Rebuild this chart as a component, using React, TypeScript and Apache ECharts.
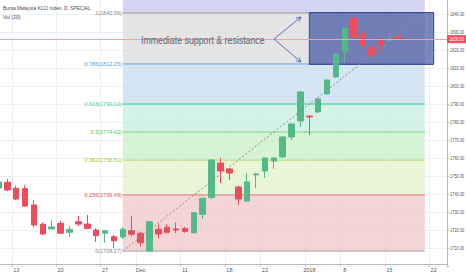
import React, { useEffect, useRef } from 'react';
import * as echarts from 'echarts';

const dates = [
  '2017-11-09', '2017-11-10', '2017-11-13', '2017-11-14', '2017-11-15', '2017-11-16', '2017-11-17',
  '2017-11-20', '2017-11-21', '2017-11-22', '2017-11-23', '2017-11-24',
  '2017-11-27', '2017-11-28', '2017-11-29', '2017-11-30',
  '2017-12-04', '2017-12-05', '2017-12-06', '2017-12-07', '2017-12-08',
  '2017-12-11', '2017-12-12', '2017-12-13', '2017-12-14', '2017-12-15',
  '2017-12-18', '2017-12-19', '2017-12-20', '2017-12-21', '2017-12-22',
  '2017-12-26', '2017-12-27', '2017-12-28', '2017-12-29',
  '2018-01-02', '2018-01-03', '2018-01-04', '2018-01-05',
  '2018-01-08', '2018-01-09', '2018-01-10', '2018-01-11', '2018-01-12',
  '2018-01-15', '2018-01-16', '2018-01-17', '2018-01-18', '2018-01-19',
  '2018-01-22', '2018-01-23',
];

// [open, close, low, high]
const ohlc = [
  [1743.3, 1746.7, 1742.8, 1747.5],
  [1746.5, 1742.2, 1741.5, 1748.3],
  [1743.2, 1737.2, 1736.5, 1744.7],
  [1743.0, 1733.3, 1732.8, 1744.7],
  [1733.9, 1722.8, 1721.5, 1736.5],
  [1723.2, 1717.8, 1717.2, 1724.2],
  [1720.6, 1721.7, 1720.4, 1725.6],
  [1723.7, 1718.2, 1717.8, 1725.0],
  [1718.7, 1720.4, 1716.3, 1722.2],
  [1724.6, 1723.3, 1722.2, 1727.8],
  [1723.3, 1720.9, 1720.6, 1728.3],
  [1720.0, 1716.8, 1713.3, 1721.0],
  [1718.2, 1719.6, 1712.9, 1720.0],
  [1716.3, 1714.0, 1709.9, 1717.2],
  [1716.1, 1720.4, 1715.0, 1721.5],
  [1719.6, 1717.6, 1716.5, 1727.8],
  [1718.2, 1712.9, 1710.6, 1719.1],
  [1708.3, 1724.6, 1708.27, 1725.0],
  [1720.4, 1717.8, 1715.4, 1723.1],
  [1721.5, 1718.7, 1718.0, 1723.1],
  [1720.6, 1720.0, 1718.3, 1724.1],
  [1720.9, 1719.1, 1718.5, 1721.8],
  [1718.5, 1729.6, 1718.0, 1730.0],
  [1728.7, 1737.6, 1726.1, 1738.0],
  [1738.0, 1758.9, 1737.2, 1759.4],
  [1757.2, 1752.8, 1746.1, 1760.0],
  [1753.9, 1751.7, 1747.8, 1754.5],
  [1743.9, 1737.2, 1733.9, 1744.5],
  [1736.1, 1746.7, 1735.5, 1751.7],
  [1750.6, 1751.1, 1743.3, 1751.7],
  [1752.8, 1760.0, 1748.9, 1760.3],
  [1758.3, 1760.0, 1753.9, 1760.3],
  [1760.6, 1771.7, 1760.0, 1772.0],
  [1771.7, 1778.9, 1770.0, 1779.2],
  [1780.6, 1796.7, 1777.2, 1797.0],
  [1783.3, 1782.8, 1772.8, 1783.6],
  [1785.6, 1792.8, 1785.0, 1793.0],
  [1795.6, 1803.3, 1795.0, 1803.6],
  [1805.0, 1817.8, 1804.5, 1818.0],
  [1819.4, 1832.2, 1813.3, 1832.5],
  [1837.8, 1827.2, 1823.9, 1840.56],
  [1828.9, 1822.8, 1821.7, 1830.6],
  [1821.7, 1816.7, 1812.8, 1823.9],
  [1825.0, 1822.8, 1818.9, 1827.2],
  [1825.4, 1825.8, 1824.4, 1827.8],
  [1827.8, 1826.03, 1818.9, 1828.0],
];

const tickDates = ['2017-11-13', '2017-11-20', '2017-11-27', '2017-12-04', '2017-12-11', '2017-12-18', '2017-12-22', '2018-01-02', '2018-01-08', '2018-01-15', '2018-01-22'];
const tickTexts = ['13', '20', '27', 'Dec', '11', '18', '22', '2018', '8', '15', '22'];

const yTickValues = [1710, 1720, 1730, 1740, 1750, 1760, 1770, 1780, 1790, 1800, 1810, 1820, 1830, 1840];

const fibLevels = ['0', '0.236', '0.382', '0.5', '0.618', '0.786', '1'];
const fibPrices = [1708.27, 1739.49, 1758.81, 1774.42, 1790.02, 1812.25, 1840.56];
const fibTopPrice = 1876.55; // 1.272 level (off-chart)
const fibStartDate = '2017-11-29';
const fibEndDate = '2018-01-19';

const boxStartDate = '2018-01-02';
const boxEndDate = '2018-01-22';
const boxLow = 1812.0;
const boxHigh = 1840.8;

const yMin = 1700;
const yMax = 1850;
const yStep = 10;

const zoneColors = [
  'rgba(240,199,200,0.75)',
  'rgba(227,240,200,0.75)',
  'rgba(200,239,200,0.75)',
  'rgba(195,239,222,0.75)',
  'rgba(198,222,239,0.75)',
  'rgba(220,220,220,0.75)',
  'rgba(200,198,239,0.75)',
];
const lineColors = ['#a3a3a3', '#e57373', '#b6dc6c', '#7bd67b', '#7fdcc0', '#5fa8dc', '#999999'];
const labelColors = ['#8a8a8a', '#e05555', '#9cc83a', '#4ecb50', '#3fcf9e', '#4da3e0', '#8a8a8a'];

const UP = '#53b987';
const DOWN = '#eb4d5c';
const FONT = "'Liberation Sans', Arial, sans-serif";

export default function App() {
  const ref = useRef<HTMLDivElement>(null);
  useEffect(() => {
    document.body.style.margin = '0';
    const chart = echarts.init(ref.current!, null, { renderer: 'svg' });
    const idx = (d: string) => dates.indexOf(d);
    const fs = idx(fibStartDate);
    const fe = idx(fibEndDate);
    const tickSet: Record<string, string> = {};
    tickDates.forEach((d, i) => (tickSet[d] = tickTexts[i]));
    const isTick = (_i: number, v: string) => v in tickSet;
    const lastIdx = ohlc.length - 1;
    const lastClose = ohlc[lastIdx][1];

    const zoneData = fibPrices.map((p, i) => [fs, fe, p, i < fibPrices.length - 1 ? fibPrices[i + 1] : fibTopPrice, i]);

    const option: any = {
      animation: false,
      backgroundColor: '#ffffff',
      textStyle: { fontFamily: FONT },
      grid: { left: -6, right: 19, top: -4, bottom: 9, containLabel: false, outerBoundsMode: 'none' },
      xAxis: {
        type: 'category',
        data: dates,
        boundaryGap: true,
        offset: -2,
        axisLine: { show: true, lineStyle: { color: '#b8b8b8' } },
        axisTick: { show: true, interval: isTick, length: 2, lineStyle: { color: '#b8b8b8' } },
        axisLabel: {
          interval: isTick,
          formatter: (v: string) => tickSet[v] || '',
          fontSize: 5.5,
          color: '#555',
          margin: 3,
          fontFamily: FONT,
        },
        splitLine: { show: true, interval: isTick, lineStyle: { color: '#edf0f4', width: 1 } },
      },
      yAxis: {
        type: 'value',
        position: 'right',
        min: yMin,
        max: yMax,
        interval: yStep,
        scale: true,
        axisLine: { show: true, lineStyle: { color: '#b8b8b8' } },
        axisTick: { show: true, length: 2, lineStyle: { color: '#b8b8b8' } },
        axisLabel: { show: false },
        splitLine: { show: true, lineStyle: { color: '#edf0f4', width: 1 } },
      },
      series: [
        {
          type: 'custom',
          name: 'fib',
          z: 1,
          clip: true,
          silent: true,
          encode: { x: [0, 1], y: [2, 3] },
          data: zoneData,
          renderItem: (params: any, api: any) => {
            const i = api.value(4);
            const p1 = api.coord([api.value(0), api.value(3)]);
            const p2 = api.coord([api.value(1), api.value(2)]);
            const children: any[] = [
              {
                type: 'rect',
                shape: { x: p1[0], y: p1[1], width: p2[0] - p1[0], height: p2[1] - p1[1] },
                style: { fill: zoneColors[i] },
              },
              {
                type: 'line',
                shape: { x1: p1[0], y1: p2[1], x2: p2[0], y2: p2[1] },
                style: { stroke: lineColors[i], lineWidth: i === 4 ? 2 : 1 },
              },
              {
                type: 'text',
                x: p1[0] - 1,
                y: p2[1],
                scaleX: 0.92,
                style: {
                  text: `${fibLevels[i]}(${fibPrices[i].toFixed(2)})`,
                  x: 0,
                  y: 0,
                  align: 'right',
                  verticalAlign: 'middle',
                  fill: labelColors[i],
                  fontSize: 6,
                  fontFamily: FONT,
                },
              },
            ];
            return { type: 'group', children };
          },
        },
        {
          type: 'custom',
          name: 'box',
          z: 2,
          silent: true,
          encode: { x: [0, 1], y: [2, 3] },
          data: [[idx(boxStartDate), idx(boxEndDate), boxLow, boxHigh]],
          renderItem: (params: any, api: any) => {
            const p1 = api.coord([api.value(0), api.value(3)]);
            const p2 = api.coord([api.value(1), api.value(2)]);
            return {
              type: 'rect',
              shape: { x: p1[0], y: p1[1], width: p2[0] - p1[0], height: p2[1] - p1[1] },
              style: { fill: 'rgba(55,75,160,0.66)', stroke: '#34489a', lineWidth: 1 },
            };
          },
        },
        {
          type: 'candlestick',
          name: 'KLCI',
          z: 3,
          barWidth: 6,
          data: ohlc,
          itemStyle: { color: UP, color0: DOWN, borderColor: UP, borderColor0: DOWN, borderWidth: 1 },
          markLine: {
            silent: true,
            symbol: ['none', 'none'],
            data: [{ yAxis: lastClose }],
            lineStyle: { color: '#f2a3aa', type: 'solid', width: 1 },
            label: { show: false },
          },
        },
        {
          type: 'custom',
          name: 'trend',
          z: 4,
          silent: true,
          encode: { x: [0, 1], y: [2, 3] },
          data: [[fs, fe, fibPrices[0], fibPrices[fibPrices.length - 1]]],
          renderItem: (params: any, api: any) => {
            const a = api.coord([api.value(0), api.value(2)]);
            const b = api.coord([api.value(1), api.value(3)]);
            return {
              type: 'line',
              shape: { x1: a[0], y1: a[1], x2: b[0], y2: b[1] },
              style: { stroke: '#8c8c8c', lineWidth: 1, lineDash: [2, 2] },
            };
          },
        },
        {
          type: 'custom',
          name: 'priceAxisLabels',
          z: 10,
          clip: false,
          silent: true,
          encode: { x: 0, y: 1 },
          data: yTickValues.map((v) => [0, v]),
          renderItem: (params: any, api: any) => {
            const cs = params.coordSys;
            const y = api.coord([0, api.value(1)])[1];
            return {
              type: 'text',
              x: cs.x + cs.width + 3,
              y,
              scaleX: 0.72,
              style: {
                text: api.value(1).toFixed(2),
                x: 0,
                y: 0,
                align: 'left',
                verticalAlign: 'middle',
                fill: '#555',
                fontSize: 5.5,
                fontFamily: FONT,
              },
            };
          },
        },
        {
          type: 'custom',
          name: 'lastPriceTag',
          z: 11,
          clip: false,
          silent: true,
          encode: { x: 0, y: 1 },
          data: [[lastIdx, lastClose]],
          renderItem: (params: any, api: any) => {
            const cs = params.coordSys;
            const y = api.coord([api.value(0), api.value(1)])[1];
            const x0 = cs.x + cs.width;
            return {
              type: 'group',
              children: [
                { type: 'rect', shape: { x: x0, y: y - 4, width: 19, height: 8 }, style: { fill: '#ee4e5e' } },
                {
                  type: 'text',
                  x: x0 + 9.5,
                  y,
                  scaleX: 0.72,
                  style: {
                    text: api.value(1).toFixed(2),
                    x: 0,
                    y: 0,
                    align: 'center',
                    verticalAlign: 'middle',
                    fill: '#ffffff',
                    fontSize: 5.5,
                    fontFamily: FONT,
                  },
                },
              ],
            };
          },
        },
      ],
      graphic: [
        {
          type: 'text',
          x: 3,
          y: 8,
          z: 100,
          scaleX: 0.81,
          style: { text: 'Bursa Malaysia KLCI Index, D, SPECIAL', x: 0, y: 0, fill: '#4a4a4a', fontSize: 6, fontFamily: FONT, verticalAlign: 'middle' },
        },
        {
          type: 'text',
          x: 3,
          y: 17,
          z: 100,
          scaleX: 0.85,
          style: { text: 'Vol (20)', x: 0, y: 0, fill: '#4a4a4a', fontSize: 6, fontFamily: FONT, verticalAlign: 'middle' },
        },
        {
          type: 'text',
          x: 141,
          y: 40,
          z: 100,
          scaleX: 0.8,
          style: { text: 'Immediate support & resistance', x: 0, y: 0, fill: '#5c6370', fontSize: 11, fontFamily: FONT, verticalAlign: 'middle' },
        },
        { type: 'line', z: 100, shape: { x1: 274, y1: 39, x2: 301, y2: 17 }, style: { stroke: '#5a70bd', lineWidth: 1 } },
        { type: 'polyline', z: 100, shape: { points: [[296.1, 18.0], [301, 17], [299.1, 21.6]] }, style: { stroke: '#5a70bd', fill: 'none', lineWidth: 1 } },
        { type: 'line', z: 100, shape: { x1: 274, y1: 39, x2: 301, y2: 62 }, style: { stroke: '#5a70bd', lineWidth: 1 } },
        { type: 'polyline', z: 100, shape: { points: [[299.2, 57.4], [301, 62], [296.1, 60.9]] }, style: { stroke: '#5a70bd', fill: 'none', lineWidth: 1 } },
      ],
    };
    chart.setOption(option);
    return () => chart.dispose();
  }, []);
  return <div ref={ref} style={{ position: 'absolute', left: 0, top: 0, width: 466, height: 275 }} />;
}
